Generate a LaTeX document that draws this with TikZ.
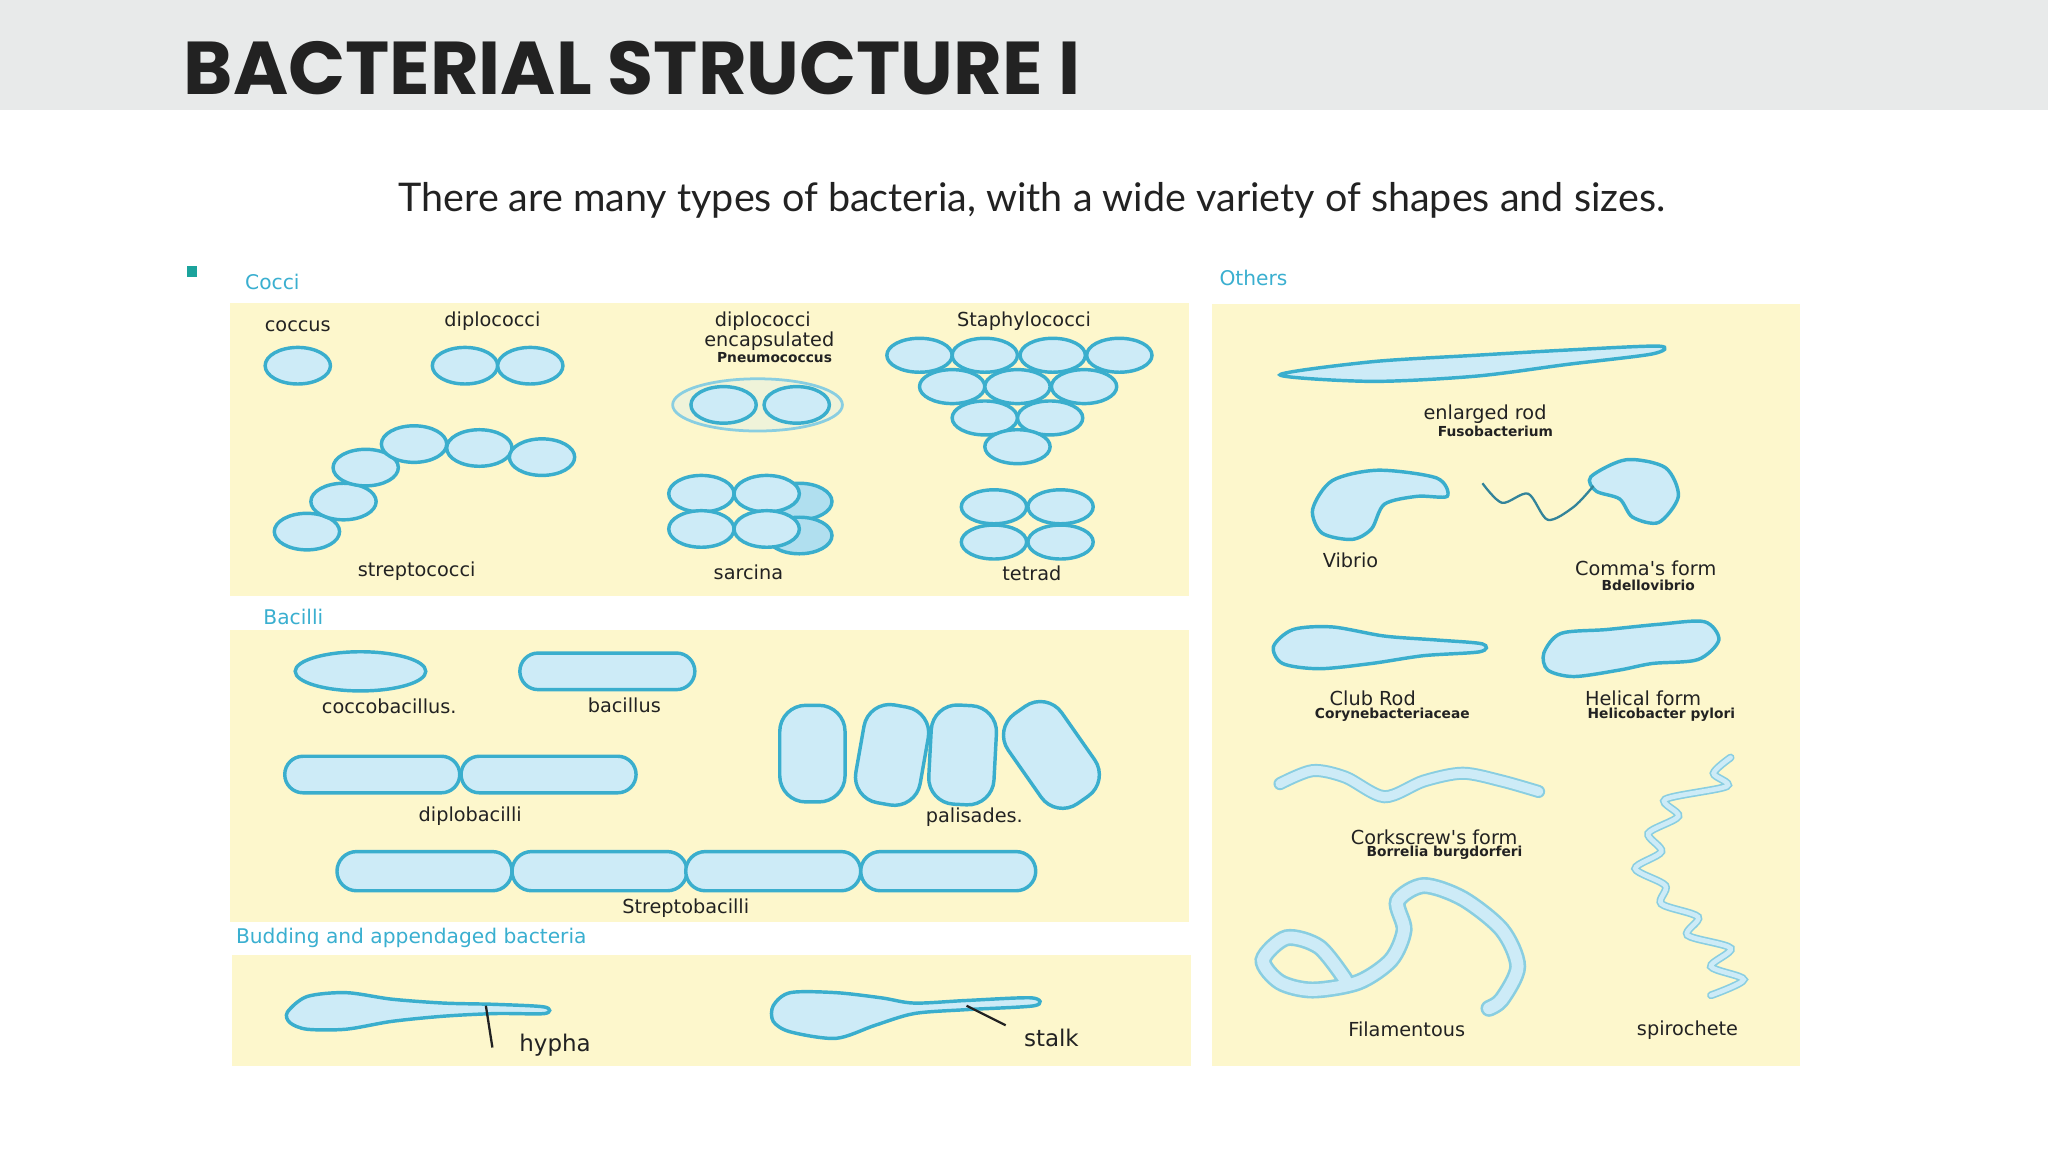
\documentclass[tikz,border=0pt]{standalone}
\usepackage{fontspec}
\setmainfont{Lato}
\newfontfamily\titlef{Poppins}
\newfontfamily\lab{DejaVu Sans}
\definecolor{hdr}{HTML}{E8EAEA}
\definecolor{panel}{HTML}{FDF7CC}
\definecolor{cellfill}{HTML}{CDEBF7}
\definecolor{celledge}{HTML}{3AAECD}
\definecolor{secblue}{HTML}{3AAFD0}
\definecolor{dark}{HTML}{222222}
\definecolor{bullet}{HTML}{1BA39C}
\tikzset{
 cell/.style={fill=cellfill,draw=celledge,line width=0.75pt},
 pan/.style={fill=panel,draw=none},
 lbl/.style={font=\lab\fontsize{4.2}{5}\selectfont,text=dark,inner sep=0pt},
 sub/.style={font=\lab\fontsize{3}{3.5}\selectfont\bfseries,text=dark,inner sep=0pt},
 sec/.style={font=\lab\fontsize{4.4}{5}\selectfont,text=secblue,inner sep=0pt,anchor=west},
}
\begin{document}
\begin{tikzpicture}[x=0.01cm,y=-0.01cm]
\useasboundingbox (0,0) rectangle (1568,882);
\fill[white] (0,0) rectangle (1568,882);
\fill[hdr] (0,0) rectangle (1568,84);
\node[anchor=base west,inner sep=0pt,font=\titlef\bfseries\fontsize{16.3}{18}\selectfont,text=dark] (title) at (140,72) {BACTERIAL STRUCTURE I};
\node[anchor=base,inner sep=0pt,font=\fontsize{8.6}{10}\selectfont,text=dark] (subt) at (790,162) {There are many types of bacteria, with a wide variety of shapes and sizes.};
\fill[bullet] (143,204) rectangle (151,212);
% panels
\fill[pan] (176,232) rectangle (910,456);
\fill[pan] (176,482) rectangle (910,706);
\fill[pan] (178,731) rectangle (912,816);
\fill[pan] (928,233) rectangle (1378,816);
\node[sec] (s1) at (187,216) {Cocci};
\node[sec] (s2) at (201,472) {Bacilli};
\node[sec] (s3) at (180,718) {Budding and appendaged bacteria};
\node[sec] (s4) at (933,213) {Others};
% cocci
\draw[cell] (228,280) ellipse (25 and 14);
\draw[cell] (356,280) ellipse (25 and 14);
\draw[cell] (406,280) ellipse (25 and 14);
\draw[celledge!60,line width=0.6pt,fill=panel!70!cellfill] (580,310) ellipse (65 and 20);
\draw[cell] (554,310) ellipse (25 and 14);
\draw[cell] (610,310) ellipse (25 and 14);
\foreach \x/\y in {704/272,754/272,806/272,857/272,729/296,779/296,830/296,754/320,804/320,779/342}
  \draw[cell] (\x,\y) ellipse (25 and 13);
\foreach \x/\y in {235/407,263/384,280/358,317/340,367/343,415/350}
  \draw[cell] (\x,\y) ellipse (25 and 14);
\draw[cell,fill=cellfill!80!celledge] (612,384) ellipse (25 and 14);
\draw[cell,fill=cellfill!80!celledge] (612,410) ellipse (25 and 14);
\foreach \x/\y in {537/378,587/378,537/405,587/405}
  \draw[cell] (\x,\y) ellipse (25 and 14);
\foreach \x/\y in {761/388,812/388,761/415,812/415}
  \draw[cell] (\x,\y) ellipse (25 and 13);
\node[lbl] (l1) at (228,250) {coccus};
\node[lbl] (l2) at (377,246) {diplococci};
\node[lbl] (l3) at (584,246) {diplococci};
\node[lbl] (l4) at (589,261) {encapsulated};
\node[sub] (l5) at (593,274) {Pneumococcus};
\node[lbl] (l6) at (784,246) {Staphylococci};
\node[lbl] (l7) at (319,437) {streptococci};
\node[lbl] (l8) at (573,438) {sarcina};
\node[lbl] (l9) at (790,439) {tetrad};
% bacilli
\draw[cell] (276,514) ellipse (50 and 15);
\draw[cell,rounded corners=0.14cm] (398,500) rectangle (532,528);
\node[lbl] (b1) at (298,541) {coccobacillus.};
\node[lbl] (b2) at (478,540) {bacillus};
\draw[cell,rounded corners=0.14cm] (218,579) rectangle (352,607);
\draw[cell,rounded corners=0.14cm] (353,579) rectangle (487,607);
\node[lbl] (b3) at (360,625) {diplobacilli};
\foreach \x in {325,459,592,726}
  \draw[cell,rounded corners=0.15cm] (\x-67,652) rectangle (\x+67,682);
\node[lbl] (b4) at (525,695) {Streptobacilli};
\draw[cell,rounded corners=0.2cm] (597,540) rectangle (647,614);
\draw[cell,rounded corners=0.2cm,rotate around={-10:(683,578)}] (658,540) rectangle (708,616);
\draw[cell,rounded corners=0.2cm,rotate around={-3:(737,578)}] (712,540) rectangle (762,616);
\draw[cell,rounded corners=0.2cm,rotate around={35:(805,578)}] (780,536) rectangle (830,620);
\node[lbl] (b5) at (746,626) {palisades.};
% budding
\draw[cell] plot[smooth cycle] coordinates {(220,775)(235,763)(265,760)(300,765)(340,768)(380,769)(417,771)(417,776)(380,776)(340,778)(300,782)(265,788)(235,788)(222,783)};
\coordinate (h1) at (372,770);
\coordinate (h2) at (377,802);
\draw[dark,line width=0.5pt] (h1) -- (h2);
\node[lbl,font=\lab\fontsize{5}{6}\selectfont] (hy) at (425,800) {hypha};
\draw[cell] plot[smooth cycle] coordinates {(592,770)(605,760)(640,760)(675,764)(700,768)(740,766)(790,764)(792,770)(740,773)(700,776)(670,785)(640,795)(605,790)(592,782)};
\coordinate (k1) at (740,770);
\coordinate (k2) at (770,785);
\draw[dark,line width=0.5pt] (k1) -- (k2);
\node[lbl,font=\lab\fontsize{5}{6}\selectfont] (st) at (805,795) {stalk};
% others
\draw[cell] plot[smooth cycle] coordinates {(980,287)(1050,277)(1130,272)(1200,268)(1270,265)(1265,271)(1200,279)(1130,288)(1050,292)};
\node[lbl] (o1) at (1137,317) {enlarged rod};
\node[sub] (o2) at (1145,330) {Fusobacterium};
\draw[cell] plot[smooth cycle] coordinates {(1005,390)(1020,368)(1055,360)(1100,366)(1108,380)(1085,380)(1060,386)(1050,405)(1035,413)(1012,408)};
\node[lbl] (o3) at (1034,429) {Vibrio};
\draw[cell] plot[smooth cycle] coordinates {(1218,365)(1245,352)(1275,358)(1285,380)(1270,400)(1250,396)(1240,382)(1222,376)};
\draw[celledge!70!dark,line width=0.5pt] plot[smooth] coordinates {(1135,370)(1150,385)(1170,378)(1185,398)(1205,388)(1220,372)};
\node[lbl] (o4) at (1260,435) {Comma's form};
\node[sub] (o5) at (1262,448) {Bdellovibrio};
\draw[cell] plot[smooth cycle] coordinates {(975,495)(990,482)(1020,480)(1060,487)(1100,490)(1135,493)(1133,499)(1090,502)(1050,508)(1010,512)(982,508)};
\node[lbl] (o6) at (1051,535) {Club Rod};
\node[sub] (o7) at (1066,547) {Corynebacteriaceae};
\draw[cell] plot[smooth cycle] coordinates {(1182,500)(1195,485)(1230,482)(1270,478)(1305,476)(1316,490)(1300,505)(1265,508)(1240,513)(1205,518)(1185,513)};
\node[lbl] (o8) at (1258,535) {Helical form};
\node[sub] (o9) at (1272,547) {Helicobacter pylori};
\draw[celledge!60,line width=0.1cm,line cap=round] plot[smooth] coordinates {(980,600)(1005,590)(1030,595)(1060,610)(1090,598)(1120,592)(1150,598)(1178,606)};
\draw[cellfill,line width=0.07cm,line cap=round] plot[smooth] coordinates {(980,600)(1005,590)(1030,595)(1060,610)(1090,598)(1120,592)(1150,598)(1178,606)};
\node[lbl] (o10) at (1098,641) {Corkscrew's form};
\node[sub] (o11) at (1106,653) {Borrelia burgdorferi};
\draw[celledge!60,line width=0.13cm,line cap=round] plot[smooth] coordinates {(1030,750)(1010,725)(985,718)(967,735)(980,752)(1005,758)(1040,752)(1065,735)(1075,712)(1070,690)(1090,678)(1120,688)(1150,712)(1162,740)(1150,765)(1140,772)};
\draw[cellfill,line width=0.09cm,line cap=round] plot[smooth] coordinates {(1030,750)(1010,725)(985,718)(967,735)(980,752)(1005,758)(1040,752)(1065,735)(1075,712)(1070,690)(1090,678)(1120,688)(1150,712)(1162,740)(1150,765)(1140,772)};
\node[lbl] (o12) at (1077,788) {Filamentous};
\draw[celledge!60,line width=0.06cm,line cap=round] plot[smooth] coordinates {(1325,580)(1312,592)(1322,602)(1275,612)(1285,625)(1262,638)(1272,652)(1252,665)(1275,678)(1272,692)(1300,702)(1292,716)(1325,726)(1310,740)(1335,750)(1310,762)};
\draw[cellfill,line width=0.035cm,line cap=round] plot[smooth] coordinates {(1325,580)(1312,592)(1322,602)(1275,612)(1285,625)(1262,638)(1272,652)(1252,665)(1275,678)(1272,692)(1300,702)(1292,716)(1325,726)(1310,740)(1335,750)(1310,762)};
\node[lbl] (o13) at (1292,789) {spirochete};
\end{tikzpicture}
\end{document}
